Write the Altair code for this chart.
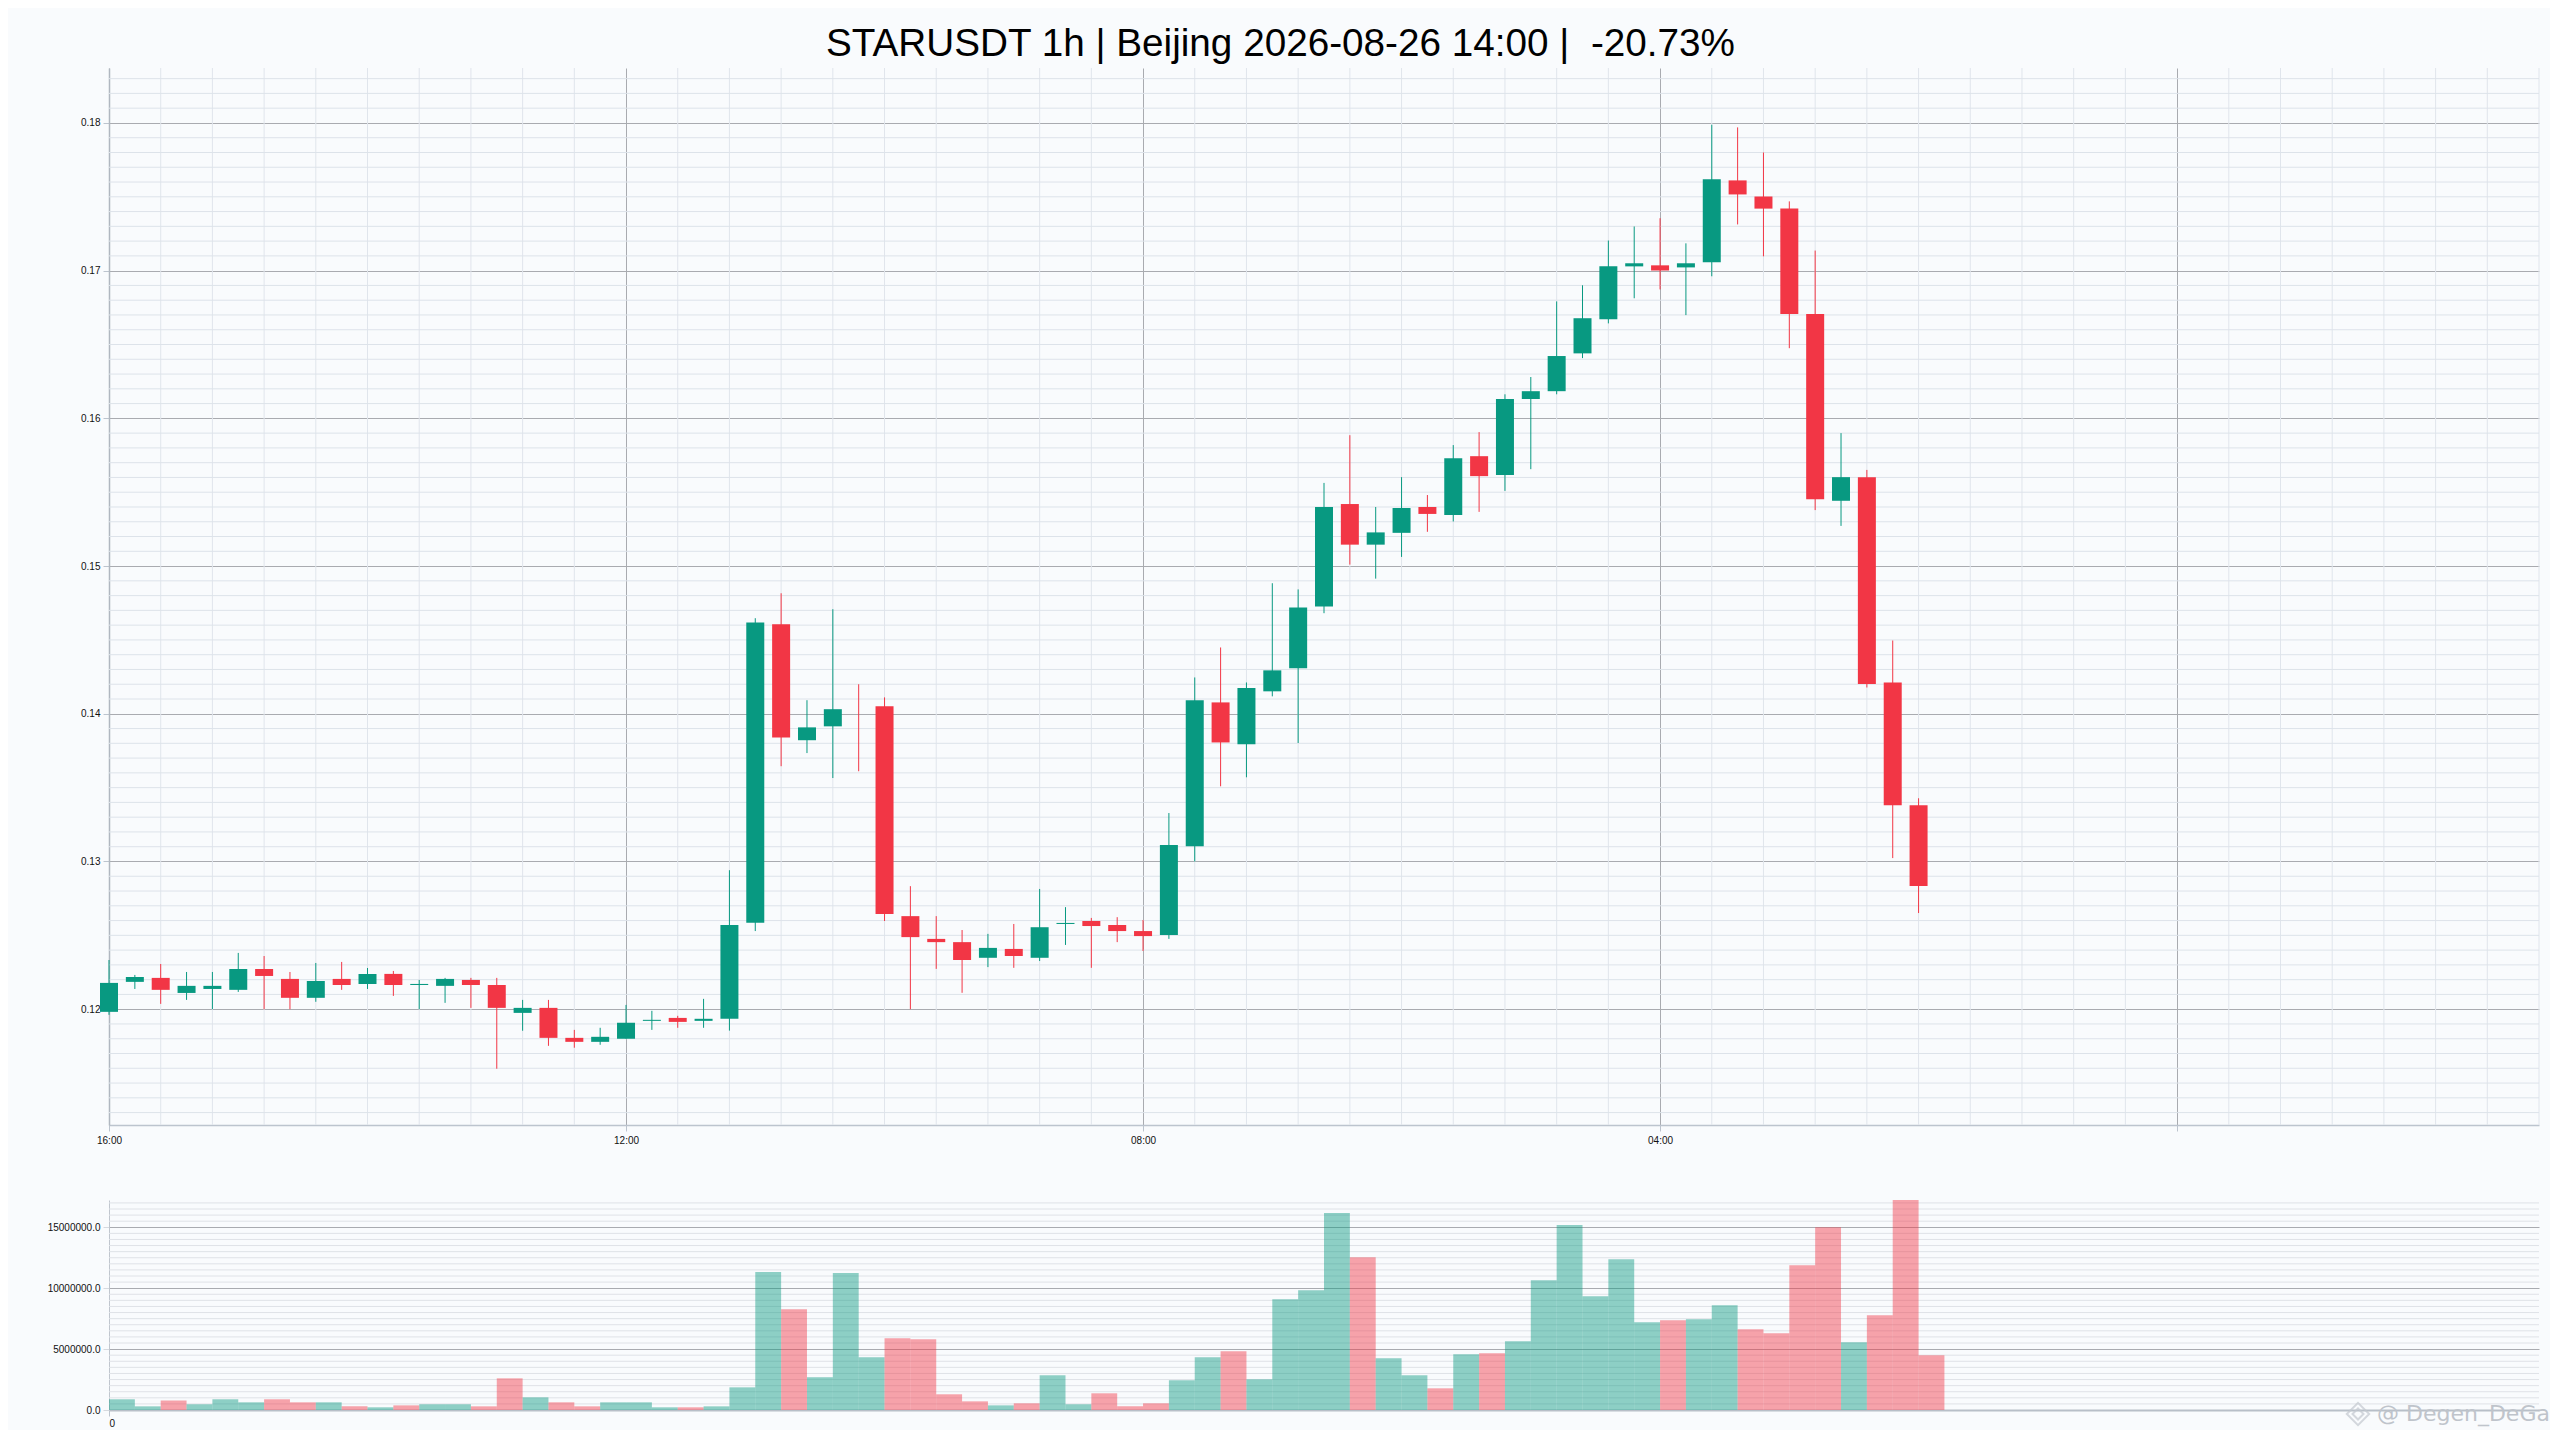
import altair as alt
import pandas as pd

TITLE = "STARUSDT 1h | Beijing 2026-08-26 14:00 |\u00a0 -20.73%"
WATERMARK = "@ Degen_DeGa"
BG = "#f9fbfd"
GREEN = "#089981"
RED = "#F23645"

open_ = [.11982,.12185,.12212,.12110,.12137,.12131,.12272,.12205,.12077,.12205,
         .12171,.12239,.12164,.12158,.12198,.12164,.11975,.12009,.11806,.11779,
         .11800,.11921,.11941,.11921,.11936,.12585,.14606,.13821,.13915,.14031,
         .14051,.12630,.12476,.12454,.12348,.12408,.12348,.12577,.12597,.12570,
         .12529,.12502,.13104,.14077,.13794,.14152,.14309,.14727,.15420,.15145,
         .15225,.15400,.15346,.15744,.15616,.16131,.16184,.16440,.16671,.17029,
         .17036,.17022,.17057,.17611,.17502,.17420,.16706,.15442,.15602,.14212,.13381]
close = [.12178,.12218,.12131,.12158,.12158,.12272,.12225,.12077,.12191,.12164,
         .12239,.12164,.12171,.12205,.12164,.12009,.12009,.11806,.11779,.11813,
         .11908,.11928,.11914,.11935,.12570,.14618,.13840,.13908,.14031,.14031,
         .12645,.12488,.12454,.12333,.12415,.12360,.12555,.12584,.12563,.12529,
         .12495,.13111,.14092,.13806,.14174,.14294,.14719,.15400,.15145,.15228,
         .15393,.15353,.15730,.15609,.16131,.16184,.16422,.16678,.17029,.17050,
         .17001,.17050,.17618,.17516,.17420,.16706,.15453,.15602,.14201,.13381,.12834]
high = [.12333,.12232,.12306,.12252,.12252,.12381,.12360,.12252,.12313,.12320,
        .12279,.12259,.12198,.12212,.12212,.12212,.12063,.12063,.11860,.11874,
        .12029,.11989,.11955,.12070,.12941,.14647,.14816,.14092,.14708,.14200,
        .14111,.12833,.12630,.12536,.12510,.12577,.12814,.12691,.12618,.12623,
        .12604,.13328,.14246,.14449,.14212,.14884,.14842,.15563,.15886,.15400,
        .15602,.15481,.15819,.15907,.16163,.16280,.16792,.16901,.17204,.17299,
        .17355,.17185,.17988,.17970,.17800,.17469,.17136,.15900,.15651,.14496,.13428]
low = [.11962,.12137,.12036,.12063,.12000,.12117,.12000,.12000,.12050,.12131,
       .12137,.12090,.12000,.12043,.12009,.11597,.11854,.11752,.11739,.11759,
       .11800,.11860,.11874,.11874,.11855,.12529,.13645,.13734,.13565,.13611,
       .12597,.12000,.12273,.12111,.12285,.12280,.12326,.12435,.12280,.12454,
       .12394,.12476,.13000,.13509,.13570,.14118,.13802,.14681,.15010,.14915,
       .15062,.15232,.15302,.15367,.15509,.15656,.16163,.16408,.16643,.16813,
       .16873,.16699,.16962,.17313,.17097,.16475,.15379,.15272,.14178,.13023,.12651]
volume = [.88,.30,.79,.47,.88,.63,.88,.63,.63,.30,
          .22,.38,.47,.47,.30,2.60,1.04,.63,.30,.63,
          .63,.22,.22,.30,1.86,11.32,8.28,2.69,11.24,4.33,
          5.89,5.81,1.29,.71,.38,.55,2.85,.47,1.37,.30,
          .55,2.44,4.33,4.82,2.52,9.10,9.84,16.17,12.55,4.25,
          2.85,1.78,4.58,4.66,5.64,10.66,15.18,9.34,12.38,7.21,
          7.37,7.45,8.60,6.63,6.30,11.89,15.01,5.56,7.78,17.23,4.49]

x_major = [0, 20, 40, 60, 80]
x_labels = ["16:00", "12:00", "08:00", "04:00", ""]
x_minor = [i for i in range(2, 95, 2) if i % 20 != 0]
price_major = [0.12, 0.13, 0.14, 0.15, 0.16, 0.17, 0.18]
price_minor = [round(0.113 + i * 0.001, 3) for i in range(71) if (113 + i) % 10 != 0]
vol_major = [0, 5000000, 10000000, 15000000]
vol_minor = [i * 500000 for i in range(1, 35) if i % 10 != 0]

PRICE_DOMAIN = [0.11216, 0.18372]
VOL_DOMAIN = [0, 17240000]
X_DOMAIN = [0, 94]

n = len(open_)
candles = pd.DataFrame({
    "i": list(range(n)), "open": open_, "close": close, "high": high, "low": low,
    "color": [GREEN if c > o else RED for o, c in zip(open_, close)],
})
bars = pd.DataFrame({
    "i": list(range(n)), "i2": [i + 1 for i in range(n)],
    "volume": [v * 1e6 for v in volume],
    "color": [GREEN if c >= o else RED for o, c in zip(open_, close)],
})

xs = alt.Scale(domain=X_DOMAIN, nice=False, zero=False, padding=0)
ys = alt.Scale(domain=PRICE_DOMAIN, nice=False, zero=False)
vs = alt.Scale(domain=VOL_DOMAIN, nice=False)

label_expr = "[" + ",".join(f"'{s}'" for s in x_labels) + "][datum.value/20]"
FONT = "Liberation Sans"

x_axis = alt.Axis(values=x_major, labelExpr=label_expr, title=None, grid=True,
                  gridColor="#a9abb0", gridWidth=1, domainColor="#bcc4ce", domainWidth=1.5,
                  tickColor="#bcc4ce", tickSize=6, labelFontSize=10, labelFont=FONT,
                  labelColor="#111111", labelPadding=4, labelFlush=False,
                  minExtent=30, maxExtent=30)
y_axis = alt.Axis(values=price_major, format=".2f", title=None, grid=True,
                  gridColor="#a9abb0", gridWidth=1, domainColor="#b0b7c0", domainWidth=1.5,
                  tickColor="#bcc4ce", tickSize=6, labelFontSize=10, labelFont=FONT,
                  labelColor="#111111", labelPadding=3, minExtent=70, maxExtent=70)

minor_x = alt.Chart(pd.DataFrame({"i": x_minor})).mark_rule(color="#e0e5ec", strokeWidth=1).encode(
    x=alt.X("i:Q", scale=xs, axis=x_axis))
minor_y = alt.Chart(pd.DataFrame({"p": price_minor})).mark_rule(color="#dde3ea", strokeWidth=1).encode(
    y=alt.Y("p:Q", scale=ys, axis=y_axis))

wicks = alt.Chart(candles).mark_rule(strokeWidth=1).encode(
    x=alt.X("i:Q", scale=xs),
    y=alt.Y("low:Q", scale=ys),
    y2="high:Q",
    color=alt.Color("color:N", scale=None),
)
bodies = alt.Chart(candles).mark_bar(size=18).encode(
    x=alt.X("i:Q", scale=xs),
    y=alt.Y("open:Q", scale=ys),
    y2="close:Q",
    color=alt.Color("color:N", scale=None),
)
main = alt.layer(minor_x, minor_y, wicks, bodies).properties(width=2430, height=1057)

vx_axis = alt.Axis(values=[0], title=None, grid=False, domainColor="#b8bfc8", domainWidth=2,
                   tickColor="#bcc4ce", tickSize=6, labelFontSize=10, labelFont=FONT,
                   labelColor="#111111", labelPadding=2, format="d")
vy_axis = alt.Axis(values=vol_major, format=".1f", title=None, grid=True,
                   gridColor="#a9abb0", gridWidth=1, domainColor="#c0c6ce", domainWidth=1,
                   tickColor="#d5d9df", tickSize=6, labelFontSize=10, labelFont=FONT,
                   labelColor="#111111", labelPadding=3, minExtent=70, maxExtent=70)

minor_v = alt.Chart(pd.DataFrame({"v": vol_minor})).mark_rule(color="#dfe2e7", strokeWidth=1).encode(
    y=alt.Y("v:Q", scale=vs, axis=vy_axis))
vol_bars = alt.Chart(bars).mark_rect(opacity=0.45).encode(
    x=alt.X("i:Q", scale=xs, axis=vx_axis),
    x2="i2:Q",
    y=alt.Y("volume:Q", scale=vs),
    y2=alt.datum(0),
    color=alt.Color("color:N", scale=None),
)
wm_text = alt.Chart(pd.DataFrame({"t": [WATERMARK]})).mark_text(
    align="left", baseline="middle", font="DejaVu Sans", fontSize=22, color="#bfc4cb"
).encode(x=alt.value(2268), y=alt.value(214), text="t:N")
wm_icon = alt.Chart(pd.DataFrame({"s": [500, 120]})).mark_point(
    shape="diamond", filled=False, color="#c4c9d0", strokeWidth=2
).encode(x=alt.value(2249), y=alt.value(214), size=alt.Size("s:Q", scale=None))
vol = alt.layer(minor_v, vol_bars, wm_icon, wm_text).properties(width=2430, height=210)

chart = alt.vconcat(main, vol, spacing=45).properties(
    background=BG,
    padding={"left": 31, "top": 17, "right": 0, "bottom": 0},
    title=alt.TitleParams(TITLE, anchor="start", dx=787, font=FONT, fontSize=38.7,
                          fontWeight="normal", color="#000000", offset=3.8),
).configure_view(stroke=None)

chart.save("out.html", embed_options={"renderer": "svg", "actions": False})
